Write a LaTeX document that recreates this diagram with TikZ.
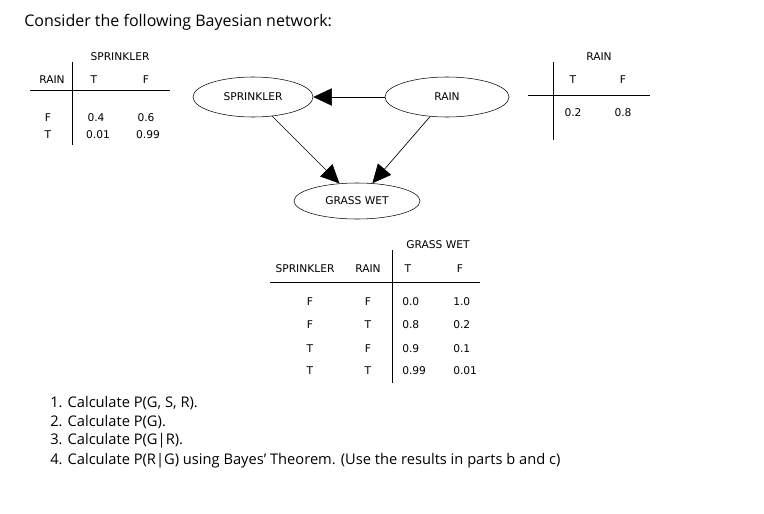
\documentclass[tikz,border=0pt]{standalone}
\usepackage{fontspec}
\setmainfont{Open Sans}
\newfontfamily\djsans{DejaVu Sans}
\usetikzlibrary{arrows.meta,shapes.geometric}
\begin{document}
\begin{tikzpicture}[x=0.75pt,y=-0.75pt,
  lab/.style={font=\djsans\fontsize{8}{9}\selectfont,inner sep=0pt},
  ell/.style={draw,ellipse,minimum width=#1,minimum height=40*0.75pt,font=\djsans\fontsize{8}{9}\selectfont},
  tline/.style={line width=0.6pt},
  arr/.style={-{Triangle[length=14pt,width=13pt]},line width=0.5pt},
  item/.style={font=\fontsize{11}{13}\selectfont,anchor=west,inner sep=0pt}]
\useasboundingbox (0,0) rectangle (764,514);
\node[anchor=west,inner sep=0pt,font=\fontsize{12}{14}\selectfont] (title) at (24,22) {Consider the following Bayesian network:};
% left table
\node[lab] (ls) at (120,57) {SPRINKLER};
\node[lab] (lr) at (52,80) {RAIN};
\node[lab] (lt) at (94,80) {T};
\node[lab] (lf) at (146,80) {F};
\draw[tline] (30,90) -- (170,90);
\draw[tline] (72,62) -- (72,145);
\node[lab] at (48,118) {F}; \node[lab] at (96,118) {0.4}; \node[lab] at (146,118) {0.6};
\node[lab] at (48,135) {T}; \node[lab] at (98,135) {0.01}; \node[lab] at (148,135) {0.99};
% nodes
\node[ell=120*0.75pt] (s) at (253,97) {SPRINKLER};
\node[ell=124*0.75pt] (r) at (447,97) {RAIN};
\node[ell=126*0.75pt,minimum height=36*0.75pt] (g) at (357,201) {GRASS WET};
\draw[arr] (r) -- (s);
\draw[arr] (s) -- (g);
\draw[arr] (r) -- (g);
% right table
\node[lab] at (599,57) {RAIN};
\node[lab] at (573,80) {T}; \node[lab] at (623,80) {F};
\draw[tline] (528,95) -- (650,95);
\draw[tline] (553,62) -- (553,140);
\node[lab] at (573,113) {0.2}; \node[lab] at (623,113) {0.8};
% bottom table
\node[lab] at (438,245) {GRASS WET};
\node[lab] at (305,269) {SPRINKLER};
\node[lab] at (368,269) {RAIN};
\node[lab] at (408,269) {T};
\node[lab] at (460,269) {F};
\draw[tline] (392,250) -- (392,383);
\draw[tline] (270,282) -- (480,282);
\foreach \y/\a/\b/\c/\d in {302/F/F/0.0/1.0, 325/F/T/0.8/0.2, 349/T/F/0.9/0.1, 371/T/T/0.99/0.01}{
  \node[lab] at (310,\y) {\a}; \node[lab] at (368,\y) {\b};
  \node[lab,anchor=west] at (402,\y) {\c}; \node[lab,anchor=west] at (453,\y) {\d};}
% list
\node[item] at (50,403) {1. Calculate P(G, S, R).};
\node[item] at (50,422) {2. Calculate P(G).};
\node[item] at (50,441) {3. Calculate P(G|R).};
\node[item] at (50,461) {4. Calculate P(R|G) using Bayes’ Theorem. (Use the results in parts b and c)};
\end{tikzpicture}
\end{document}
